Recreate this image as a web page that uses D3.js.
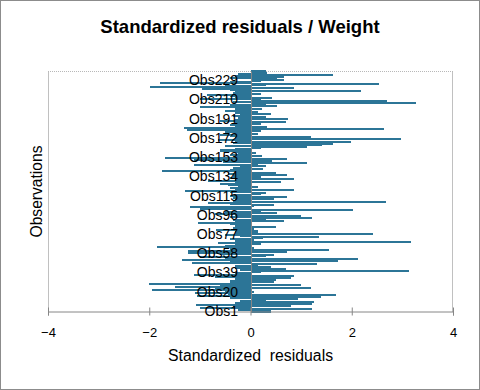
<!DOCTYPE html>
<html>
<head>
<meta charset="utf-8">
<script src="https://cdn.jsdelivr.net/npm/d3@7"></script>
<style>
  html, body { margin: 0; padding: 0; background: #fff; }
  svg { display: block; font-family: "Liberation Sans", Arial, sans-serif; }
</style>
</head>
<body>
<svg id="chart" width="480" height="390"></svg>
<script>
// ---- data ----
const title = "Standardized residuals / Weight";
const xTitle = "Standardized  residuals";
const yTitle = "Observations";
const xTicks = [-4, -2, 0, 2, 4];
// standardized residuals, Obs1 ... Obs238
const residuals = [
  0.40, -0.25, 1.22, -1.00, -0.35, 0.80, -1.08, 1.22, -0.30, 1.26,
  -0.20, 0.30, 0.93, -0.40, 1.39, -1.05, 1.68, -0.45, -1.10, 0.06,
  -0.50, -1.95, -0.70, 1.20, -1.50, -0.60, 1.00, -2.01, -0.40, 0.46,
  -0.40, 0.50, -0.30, 0.80, -0.70, 0.86, -1.12, -0.25, -0.30, 0.20,
  3.13, -0.20, 0.70, -0.30, 0.40, -0.30, 0.15, 1.32, -1.15, -0.40,
  1.72, -1.35, 2.12, -0.50, -1.00, 0.30, 0.46, -0.60, -1.23, 0.73,
  -1.23, 1.55, -0.40, 0.06, -1.85, -0.50, -0.30, 0.20, -0.65, 3.17,
  -0.30, 0.06, -0.40, 0.25, 1.35, -0.20, -0.50, 2.41, -0.30, 0.15,
  -0.69, 0.06, -0.35, 0.50, -0.30, -0.15, -0.40, -1.03, -0.30, 0.66,
  -0.35, 0.30, 1.22, -0.40, 1.00, -0.30, -0.70, 0.53, -0.50, 0.20,
  2.03, -1.00, -0.50, -1.19, 0.06, 0.46, -0.40, -0.83, 2.67, -0.35,
  -0.30, 0.46, -0.35, 0.73, -0.40, -0.30, 0.20, 0.30, -0.40, -1.30,
  0.85, -0.30, -0.40, 0.15, -0.25, -0.45, -0.60, -0.30, 0.60, -0.83,
  -0.30, 0.86, -0.40, 0.20, -0.35, 0.73, -0.45, 0.50, -0.30, -1.75,
  -0.40, 0.25, -0.35, -0.20, 0.30, -1.12, 0.15, 1.12, -0.55, 0.43,
  -1.12, 0.73, -1.68, -0.30, 0.23, -0.40, -0.25, 0.10, -0.30, -0.60,
  -0.30, 0.20, 1.12, -0.50, 1.42, 1.62, -0.35, 1.98, -0.30, -0.65,
  2.97, -0.30, 1.19, -0.40, -0.60, 0.15, -0.30, -0.50, 0.20, -1.26,
  2.63, -1.32, 0.33, -0.30, -0.40, 0.20, -0.30, 0.70, -0.60, -0.30,
  0.75, -0.25, 0.30, -0.35, -0.20, 0.40, -0.30, 0.15, -0.50, -0.30,
  0.23, -0.30, -1.00, 0.53, -0.40, 0.30, 3.27, -0.35, 2.70, 0.20,
  -1.00, 0.43, -0.30, -0.40, -0.86, 0.20, -0.35, -0.30, 2.18, -0.40,
  -0.95, 0.86, -1.98, -0.50, 0.30, 2.54, -1.78, -0.40, 0.20, 0.66,
  0.53, -0.40, 0.66, -0.30, 1.62, -0.25, 0.33, 0.30
];
const observations = residuals.map((_, i) => "Obs" + (i + 1));
const labelStep = 19;
const shownLabels = observations.filter((_, i) => i % labelStep === 0);

// ---- layout ----
const W = 480, H = 390;
const plot = { left: 48, right: 453, top: 71, bottom: 312 };
const barColor = "#2C7597";

const svg = d3.select("#chart");

// outer frame
svg.append("rect")
  .attr("x", 0.5).attr("y", 0.5)
  .attr("width", W - 1).attr("height", H - 1)
  .attr("fill", "#fff").attr("stroke", "#8c8c8c").attr("stroke-width", 1);

const x = d3.scaleLinear().domain([-4, 4]).range([plot.left, plot.right]);
const y = d3.scaleBand()
  .domain(observations.slice().reverse())
  .range([plot.top, plot.bottom])
  .padding(0);

// plot area border: solid sides, dotted top
svg.append("path")
  .attr("d", `M${plot.left + 0.5},${plot.bottom} V${plot.top + 0.5} M${plot.right - 0.5},${plot.top + 0.5} V${plot.bottom}`)
  .attr("fill", "none").attr("stroke", "#c0c0c0").attr("stroke-width", 1);
svg.append("line")
  .attr("x1", plot.left).attr("x2", plot.right)
  .attr("y1", plot.top + 0.5).attr("y2", plot.top + 0.5)
  .attr("stroke", "#b8b8b8").attr("stroke-width", 1)
  .attr("stroke-dasharray", "1,1");

// bars (slightly thicker than the band, as in the rendered reference)
const bw = y.bandwidth();
svg.append("g")
  .selectAll("rect")
  .data(residuals)
  .join("rect")
  .attr("x", d => x(Math.min(0, d)))
  .attr("width", d => Math.abs(x(d) - x(0)))
  .attr("y", (d, i) => y(observations[i]) - bw * 0.5)
  .attr("height", bw * 2)
  .attr("fill", barColor)
  .attr("shape-rendering", "crispEdges");

// x axis
const xAxis = svg.append("g")
  .attr("transform", `translate(0,${plot.bottom - 0.5})`)
  .call(d3.axisBottom(x).tickValues(xTicks).tickSize(4).tickPadding(12).tickFormat(d3.format("d")));
xAxis.select(".domain").attr("stroke", "#868686");
xAxis.selectAll(".tick line").attr("y1", -4).attr("y2", 4).attr("stroke", "#868686");
xAxis.selectAll(".tick text")
  .attr("font-size", 13).attr("fill", "#000")
  .attr("font-family", "Liberation Sans, Arial, sans-serif");

// y axis (at x = 0)
const yAxis = svg.append("g")
  .attr("transform", `translate(${x(0) + 0.5},0)`)
  .call(d3.axisLeft(y).tickValues(shownLabels).tickSize(0).tickPadding(13));
yAxis.select(".domain").attr("stroke", "#868686");
yAxis.selectAll(".tick text")
  .attr("font-size", 14).attr("fill", "#000")
  .attr("font-family", "Liberation Sans, Arial, sans-serif");

// titles
svg.append("text")
  .attr("x", 240).attr("y", 33)
  .attr("text-anchor", "middle")
  .attr("font-size", 18.5).attr("font-weight", "bold")
  .text(title);

svg.append("text")
  .attr("x", (plot.left + plot.right) / 2).attr("y", 361)
  .attr("text-anchor", "middle")
  .attr("font-size", 15.8)
  .style("white-space", "pre")
  .attr("xml:space", "preserve")
  .text(xTitle);

svg.append("text")
  .attr("transform", `translate(42,${(plot.top + plot.bottom) / 2}) rotate(-90)`)
  .attr("text-anchor", "middle")
  .attr("font-size", 15.6)
  .text(yTitle);
</script>
</body>
</html>
